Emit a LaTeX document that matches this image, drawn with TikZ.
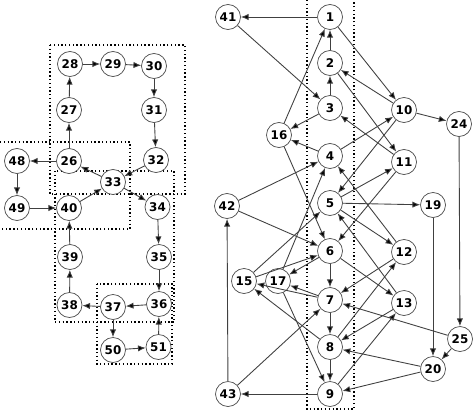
\documentclass[tikz,border=0pt]{standalone}
\usepackage{fontspec}
\setmainfont{DejaVu Sans}
\usetikzlibrary{arrows.meta}

\begin{document}
\begin{tikzpicture}[
    vtx/.style={circle, draw=black!70, fill=white, inner sep=0pt, minimum size=0.5cm,
      font=\fontsize{6.8}{7}\selectfont\bfseries},
    arr/.style={draw=black!75, line width=0.5pt, -{Latex[length=4.4pt,width=3.6pt]}},
    blk/.style={line width=0.75pt, dash pattern=on 0.75pt off 1.4pt}]
    \useasboundingbox (0,0) rectangle (9.48,-8.20);
    % blocks
    \draw[blk] (1.00,-0.90) rectangle (3.70,-3.88);
    \draw[blk] (0,-2.84) -- (2.60,-2.84) -- (2.60,-4.58) -- (0,-4.58);
    \draw[blk] (1.10,-3.42) rectangle (3.48,-6.44);
    \draw[blk] (1.94,-5.68) rectangle (3.44,-7.28);
    \draw[blk] (6.14,0) -- (6.14,-8.18) -- (7.08,-8.18) -- (7.08,0);
    % left graph
    \node[vtx] (n28) at (1.40,-1.28) {28};
    \node[vtx] (n29) at (2.26,-1.28) {29};
    \node[vtx] (n30) at (3.08,-1.32) {30};
    \node[vtx] (n27) at (1.38,-2.20) {27};
    \node[vtx] (n31) at (3.08,-2.20) {31};
    \node[vtx] (n26) at (1.38,-3.22) {26};
    \node[vtx] (n32) at (3.12,-3.20) {32};
    \node[vtx] (n48) at (0.34,-3.22) {48};
    \node[vtx] (n33) at (2.26,-3.64) {33};
    \node[vtx] (n49) at (0.34,-4.16) {49};
    \node[vtx] (n40) at (1.38,-4.16) {40};
    \node[vtx] (n34) at (3.15,-4.14) {34};
    \node[vtx] (n39) at (1.40,-5.14) {39};
    \node[vtx] (n35) at (3.18,-5.14) {35};
    \node[vtx] (n38) at (1.39,-6.10) {38};
    \node[vtx] (n37) at (2.26,-6.14) {37};
    \node[vtx] (n36) at (3.18,-6.08) {36};
    \node[vtx] (n50) at (2.26,-7.00) {50};
    \node[vtx] (n51) at (3.17,-6.94) {51};
    \draw[arr] (n27) edge (n28) (n28) edge (n29) (n29) edge (n30)
    (n30) edge (n31) (n31) edge (n32) (n32) edge (n33)
    (n33) edge (n26) edge (n34) (n26) edge (n27) edge (n48)
    (n48) edge (n49) (n49) edge (n40) (n40) edge (n33)
    (n34) edge (n35) (n35) edge (n36) (n36) edge (n37)
    (n37) edge (n38) edge (n50) (n38) edge (n39) (n39) edge (n40)
    (n50) edge (n51) (n51) edge (n36);
    % right graph
    \node[vtx] (n1) at (6.60,-0.34) {1};
    \node[vtx] (n41) at (4.56,-0.34) {41};
    \node[vtx] (n2) at (6.60,-1.26) {2};
    \node[vtx] (n3) at (6.60,-2.16) {3};
    \node[vtx] (n10) at (8.08,-2.20) {10};
    \node[vtx] (n24) at (9.18,-2.48) {24};
    \node[vtx] (n16) at (5.58,-2.70) {16};
    \node[vtx] (n4) at (6.60,-3.12) {4};
    \node[vtx] (n11) at (8.08,-3.24) {11};
    \node[vtx] (n42) at (4.54,-4.12) {42};
    \node[vtx] (n5) at (6.60,-4.06) {5};
    \node[vtx] (n19) at (8.66,-4.10) {19};
    \node[vtx] (n6) at (6.60,-5.02) {6};
    \node[vtx] (n12) at (8.08,-5.04) {12};
    \node[vtx] (n15) at (4.88,-5.62) {15};
    \node[vtx] (n17) at (5.56,-5.62) {17};
    \node[vtx] (n7) at (6.60,-6.00) {7};
    \node[vtx] (n13) at (8.08,-6.06) {13};
    \node[vtx] (n8) at (6.60,-6.94) {8};
    \node[vtx] (n25) at (9.20,-6.78) {25};
    \node[vtx] (n20) at (8.66,-7.38) {20};
    \node[vtx] (n43) at (4.56,-7.88) {43};
    \node[vtx] (n9) at (6.60,-7.88) {9};
    \draw[arr] (n1) edge (n41) edge (n10) (n2) edge (n1) edge (n11)
    (n3) edge (n2) edge (n16) (n41) edge (n3) (n16) edge (n1) edge (n6)
    (n10) edge (n2) edge (n24) edge (n5) (n4) edge (n10) edge (n16)
    (n11) edge (n3) edge (n6) (n42) edge (n4) edge (n6)
    (n5) edge (n19) edge (n12) edge (n11) (n12) edge (n4) edge (n7)
    (n13) edge (n5) edge (n8) (n17) edge (n4) edge (n9)
    (n15) edge (n5) edge (n6) (n6) edge (n7) edge (n17) edge (n13)
    (n7) edge (n17) edge (n15) edge (n8) (n8) edge (n15) edge (n9) edge (n12)
    (n9) edge (n13) edge (n43) (n43) edge (n7) edge (n42)
    (n25) edge (n7) edge (n20) (n20) edge (n8) edge (n9)
    (n19) edge (n20) (n24) edge (n25);
\end{tikzpicture}
\end{document}
